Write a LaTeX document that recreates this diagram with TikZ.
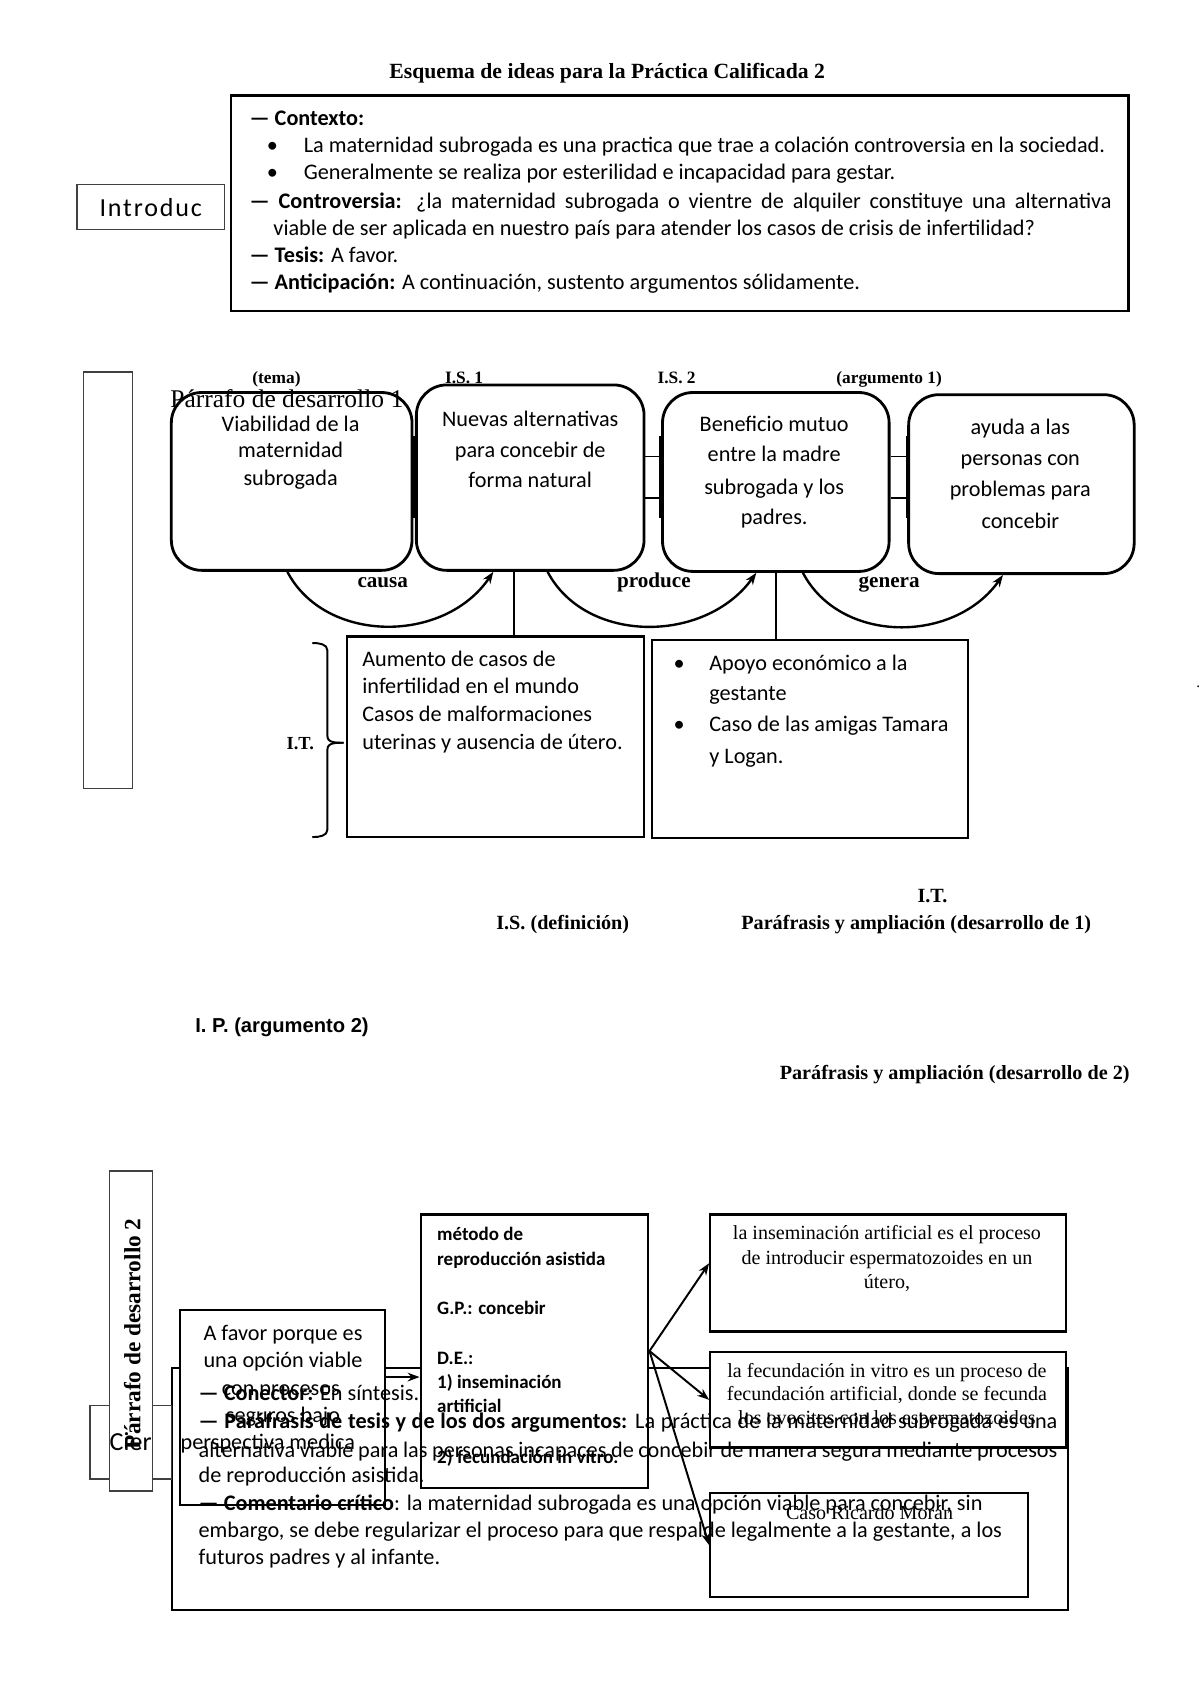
\documentclass[tikz,border=0pt]{standalone}
\usepackage{fontspec}
\setmainfont{Liberation Serif}
\newfontfamily\calf{Carlito}
\newfontfamily\calsp[LetterSpace=7]{Carlito}
\newfontfamily\arif{Liberation Sans}
\usetikzlibrary{arrows.meta}
\newcommand\fsz[2]{\fontsize{#1}{#2}\selectfont}
\begin{document}
\begin{tikzpicture}[x=1pt,y=-1pt,
  t/.style={inner sep=0,anchor=base west},
  tc/.style={inner sep=0,anchor=base},
  body/.style={font=\calf\fsz{20.5}{25}},
  lab/.style={font=\bfseries\fsz{16}{18}},
  arlab/.style={font=\bfseries\fsz{19.5}{20}},
  sublab/.style={font=\bfseries\fsz{18.6}{20}},
  rbox/.style={draw,line width=2.6pt,rounded corners=28pt},
  sbox/.style={draw,line width=2pt,fill=white},
  thinbox/.style={draw=black!75,line width=1.1pt},
  arr/.style={line width=2.2pt,-{Stealth[length=11pt,width=8pt]}},
  sarr/.style={line width=1.8pt,-{Stealth[length=11pt,width=8pt]}}]
\useasboundingbox (0,0) rectangle (1107,1566);
\fill[white] (0,0) rectangle (1107,1566);

% ---------- title + intro ----------
\node[tc,font=\bfseries\fsz{20}{22}] (title) at (560,72) {Esquema de ideas para la Práctica Calificada 2};
\node[thinbox,minimum width=136,minimum height=42] (intro) at (139,191) {};
\node[font=\calsp\fsz{24}{26}] at (intro) {Introduc};
\node[draw,line width=2.4pt,minimum width=828,minimum height=199] (ctx) at (627,187.5) {};
\begin{scope}[body]
\node[t] at (230,116) {\bfseries — Contexto:};
\node[t] at (246,141) {•};
\node[t] at (280,141) {La maternidad subrogada es una practica que trae a colación controversia en la sociedad.};
\node[t] at (246,166) {•};
\node[t] at (280,166) {Generalmente se realiza por esterilidad e incapacidad para gestar.};
\node[t] at (230,192) {\hbox to 795pt{\bfseries — Controversia:\mdseries{} ¿la maternidad subrogada o vientre de alquiler constituye una alternativa}};
\node[t] at (252,217) {viable de ser aplicada en nuestro país para atender los casos de crisis de infertilidad?};
\node[t] at (230,242) {\bfseries — Tesis:\mdseries{} A favor.};
\node[t] at (230,267) {\bfseries — Anticipación:\mdseries{} A continuación, sustento argumentos sólidamente.};
\end{scope}

% ---------- paragraph 1 ----------
\node[thinbox,minimum width=45,minimum height=384] (p1) at (99.5,535) {};
\node[tc,lab] at (255,354) {(tema)};
\node[tc,lab] at (428,354) {I.S. 1};
\node[tc,lab] at (624,354) {I.S. 2};
\node[tc,lab] at (820,354) {(argumento 1)};

\node[rbox,minimum width=222,minimum height=164] (b1) at (269,444) {};
\node[rbox,minimum width=210,minimum height=171] (b2) at (489,440.5) {};
\node[rbox,minimum width=209,minimum height=165] (b3) at (715.5,444.5) {};
\node[rbox,minimum width=208,minimum height=165] (b4) at (942,446.5) {};
\node[t,font=\fsz{23.5}{25}] at (157,376) {Párrafo de desarrollo 1};
\begin{scope}[body]
\node[tc] at (268,398) {Viabilidad de la};
\node[tc] at (268,422) {maternidad};
\node[tc] at (268,448) {subrogada};
\node[tc] at (489,393) {Nuevas alternativas};
\node[tc] at (489,422) {para concebir de};
\node[tc] at (489,450) {forma natural};
\node[tc] at (714,398) {Beneficio mutuo};
\node[tc] at (714,426) {entre la madre};
\node[tc] at (714,456) {subrogada y los};
\node[tc] at (714,484) {padres.};
\node[tc] at (941,401) {ayuda a las};
\node[tc] at (941,429) {personas con};
\node[tc] at (941,458) {problemas para};
\node[tc] at (941,487) {concebir};
\end{scope}

% block connectors between boxes
\foreach \a/\b in {b1/b2,b2/b3,b3/b4}{
  \coordinate (ja) at (\a.east |- 0,440);
  \coordinate (jb) at (\b.west |- 0,440);
  \draw[line width=1.6pt] ([yshift=19pt]ja) -- ([yshift=19pt]jb);
  \draw[line width=1.6pt] ([yshift=-19pt]ja) -- ([yshift=-19pt]jb);
  \draw[line width=3pt] ([yshift=38pt]jb) -- ([yshift=-38pt]jb);
}

% curved arrows
\draw[arr] ([xshift=-4pt]b1.south) .. controls (300,594) and (410,594) .. ([xshift=-34pt]b2.south);
\draw[arr] ([xshift=16pt]b2.south) .. controls (540,594) and (650,594) .. ([xshift=-18pt]b3.south);
\draw[arr] ([xshift=25pt]b3.south) .. controls (775,594) and (880,594) .. ([xshift=-17pt]b4.south);
\node[tc,arlab] at (353,542) {causa};
\node[tc,arlab] at (603,542) {produce};
\node[tc,arlab] at (820,542) {genera};

% I.T. boxes
\node[draw,line width=2pt,minimum width=274,minimum height=185] (itA) at (457,679.5) {};
\node[draw,line width=2pt,minimum width=292,minimum height=183] (itB) at (747,681.5) {};
\draw[line width=2pt] ([xshift=-15pt]b2.south) -- ([xshift=-15pt]b2.south |- itA.north);
\draw[line width=2pt] (b3.south) -- (b3.south |- itB.north);
\begin{scope}[body]
\node[t] at (334,615) {Aumento de casos de};
\node[t] at (334,640) {infertilidad en el mundo};
\node[t] at (334,665) {Casos de malformaciones};
\node[t] at (334,691) {uterinas y ausencia de útero.};
\node[t] at (621,618) {•};
\node[t] at (654,618) {Apoyo económico a la};
\node[t] at (654,646) {gestante};
\node[t] at (621,675) {•};
\node[t] at (654,675) {Caso de las amigas Tamara};
\node[t] at (654,704) {y Logan.};
\end{scope}
% brace
\coordinate (brtip) at (itA.west |- 0,685);
\draw[line width=1.8pt] (288,593) to[out=0,in=90] (302,600) -- (302,679) to[out=-90,in=180] ([xshift=-2pt]brtip);
\draw[line width=1.8pt] ([xshift=-2pt]brtip) to[out=180,in=90] (302,691) -- (302,765) to[out=-90,in=0] (288,772);
\node[tc,font=\bfseries\fsz{17}{18}] at (277,691) {I.T.};
\node[tc,font=\fsz{14}{14}] at (1105,634) {.};

% labels
\node[tc,sublab] at (860,832) {I.T.};
\node[tc,sublab] at (519,857) {I.S. (definición)};
\node[tc,sublab] at (845,857) {Paráfrasis y ampliación (desarrollo de 1)};
\node[t,font=\arif\bfseries\fsz{18.6}{20}] at (180,952) {I. P. (argumento 2)};
\node[t,sublab] at (719,996) {Paráfrasis y ampliación (desarrollo de 2)};

% ---------- paragraph 2 / cierre ----------
\node[draw,line width=2pt,fill=white,minimum width=826,minimum height=223] (big) at (572,1373.5) {};
\node[thinbox,minimum width=75,minimum height=68] (cier) at (120.5,1330) {};
\node[thinbox,fill=white,minimum width=40,minimum height=295] (p2) at (121,1227.5) {};
\node[font=\calf\fsz{24}{26}] at (cier) {Cier};
\node[rotate=90,inner sep=0,font=\bfseries\fsz{21.5}{24}] at (122,1230) {Párrafo de desarrollo 2};

\node[sbox,minimum width=189,minimum height=180] (afav) at (260.5,1298) {};
\begin{scope}[body]
\node[tc] at (261,1236) {A favor porque es};
\node[tc] at (261,1261) {una opción viable};
\node[tc] at (259,1287) {con procesos};
\node[tc] at (261,1312) {seguros bajo};
\node[tc] at (247,1337) {perspectiva medica};
\end{scope}

\node[sbox,minimum width=210,minimum height=252] (met) at (493,1246) {};
\begin{scope}[font=\calf\bfseries\fsz{17.5}{22}]
\node[t] at (403,1144) {método de};
\node[t] at (403,1167) {reproducción asistida};
\node[t] at (403,1212) {G.P.: concebir};
\node[t] at (403,1258) {D.E.:};
\node[t] at (403,1281) {1) inseminación};
\node[t] at (403,1303) {artificial};
\node[t] at (403,1350) {2) fecundación in vitro.};
\end{scope}

\node[sbox,minimum width=328,minimum height=108] (ia) at (819,1174) {};
\node[sbox,minimum width=328,minimum height=88] (fiv) at (819,1291) {};
\node[sbox,minimum width=293,minimum height=96] (ric) at (801.5,1425) {};
\begin{scope}[font=\fsz{18.5}{22}]
\node[tc] at (818,1143) {la inseminación artificial es el proceso};
\node[tc] at (818,1166) {de introducir espermatozoides en un};
\node[tc] at (818,1188) {útero,};
\node[tc] at (818,1270) {la fecundación in vitro es un proceso de};
\node[tc] at (818,1292) {fecundación artificial, donde se fecunda};
\node[tc] at (818,1314) {los ovocitos con los espermatozoides};
\node[tc] at (802,1401) {Caso Ricardo Morán};
\end{scope}

\draw[sarr] ([yshift=28pt]afav.east) -- ([yshift=28pt]afav.east -| met.west);
\draw[sarr] (met.east) -- ([yshift=9pt]ia.west);
\draw[sarr] (met.east) -- (fiv.west);
\draw[sarr] (met.east) -- (ric.west);

\begin{scope}[body]
\node[t] at (183,1292) {\bfseries — Conector:\mdseries{} En síntesis.};
\node[t] at (183,1317) {\hbox to 792pt{\bfseries — Paráfrasis de tesis y de los dos argumentos:\mdseries{} La práctica de la maternidad subrogada es una}};
\node[t] at (183,1344) {\hbox to 792pt{alternativa viable para las personas incapaces de concebir de manera segura mediante procesos}};
\node[t] at (183,1367) {de reproducción asistida.};
\node[t] at (183,1393) {\bfseries — Comentario crítico\mdseries{}: la maternidad subrogada es una opción viable para concebir, sin};
\node[t] at (183,1418) {embargo, se debe regularizar el proceso para que respalde legalmente a la gestante, a los};
\node[t] at (183,1443) {futuros padres y al infante.};
\end{scope}
\end{tikzpicture}
\end{document}
